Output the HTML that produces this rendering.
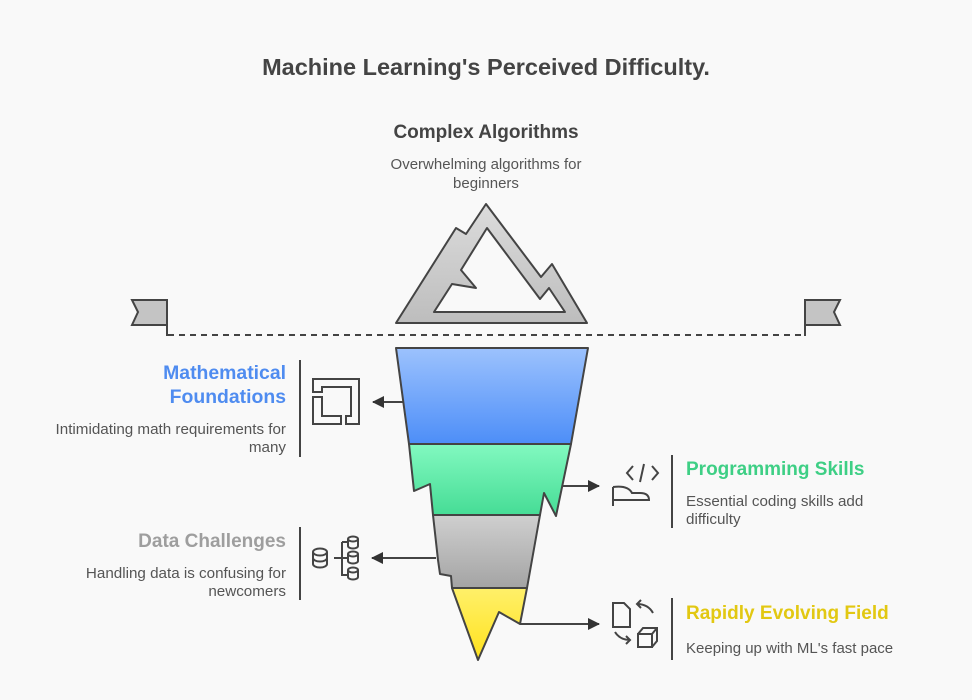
<!DOCTYPE html>
<html><head><meta charset="utf-8"><style>
html,body{margin:0;padding:0;background:#f9f9f9;}
svg{display:block;font-family:"Liberation Sans",Arial,sans-serif;}
</style></head><body>
<svg width="972" height="700" viewBox="0 0 972 700" xmlns="http://www.w3.org/2000/svg">
<defs>
<linearGradient id="gb" x1="0" y1="0" x2="0" y2="1"><stop offset="0" stop-color="#9cc2fd"/><stop offset="1" stop-color="#4d8ef8"/></linearGradient>
<linearGradient id="gg" x1="0" y1="0" x2="0" y2="1"><stop offset="0" stop-color="#82f9c0"/><stop offset="1" stop-color="#45dc95"/></linearGradient>
<linearGradient id="gr" x1="0" y1="0" x2="0" y2="1"><stop offset="0" stop-color="#cfcfcf"/><stop offset="1" stop-color="#a4a4a4"/></linearGradient>
<linearGradient id="gy" x1="0" y1="0" x2="0" y2="1"><stop offset="0" stop-color="#fff06a"/><stop offset="1" stop-color="#ffe21d"/></linearGradient>
<linearGradient id="gm" x1="0" y1="0" x2="0" y2="1"><stop offset="0" stop-color="#dcdcdc"/><stop offset="1" stop-color="#bdbdbd"/></linearGradient>
<marker id="ah" markerWidth="12" markerHeight="12" refX="11" refY="6" orient="auto" markerUnits="userSpaceOnUse"><path d="M0,0 L12,6 L0,12 Z" fill="#333"/></marker>
</defs>
<text x="486" y="75" text-anchor="middle" font-size="23.5" font-weight="bold" fill="#444">Machine Learning's Perceived Difficulty.</text>
<text x="486" y="138" text-anchor="middle" font-size="19" font-weight="bold" fill="#444">Complex Algorithms</text>
<text x="486" y="169" text-anchor="middle" font-size="15" fill="#555">Overwhelming algorithms for</text>
<text x="486" y="188" text-anchor="middle" font-size="15" fill="#555">beginners</text>

<path d="M396,323 L456,228 L466,234 L486,204 L541,277 L552,264 L587,323 Z M434,312 L565,312 L549,288 L540,299 L487,228 L461,270 L476,288 L452,284 Z" fill="url(#gm)" fill-rule="evenodd" stroke="#444" stroke-width="2" stroke-linejoin="round"/>

<line x1="168" y1="335" x2="803" y2="335" stroke="#444" stroke-width="2" stroke-dasharray="6,5"/>
<path d="M132,300 L167,300 L167,325 L132,325 L138,312 Z" fill="#c4c4c4" stroke="#444" stroke-width="2"/>
<line x1="167" y1="300" x2="167" y2="336" stroke="#444" stroke-width="2"/>
<path d="M840,300 L805,300 L805,325 L840,325 L834,312 Z" fill="#c4c4c4" stroke="#444" stroke-width="2"/>
<line x1="805" y1="300" x2="805" y2="336" stroke="#444" stroke-width="2"/>

<path d="M396,348 L588,348 L571,444 L409,444 Z" fill="url(#gb)" stroke="#444" stroke-width="2" stroke-linejoin="round"/>
<path d="M409,444 L571,444 L556,516 L544,493 L540,515 L433,515 L430,484 L414,491 Z" fill="url(#gg)" stroke="#444" stroke-width="2" stroke-linejoin="round"/>
<path d="M433,515 L540,515 L527,588 L452,588 L451,576 L440,574 L438,560 Z" fill="url(#gr)" stroke="#444" stroke-width="2" stroke-linejoin="round"/>
<path d="M452,588 L527,588 L520,624 L499,612 L478,660 Z" fill="url(#gy)" stroke="#444" stroke-width="2" stroke-linejoin="round"/>

<line x1="403" y1="402" x2="373" y2="402" stroke="#444" stroke-width="2" marker-end="url(#ah)"/>
<line x1="562" y1="486" x2="599" y2="486" stroke="#444" stroke-width="2" marker-end="url(#ah)"/>
<line x1="436" y1="558" x2="372" y2="558" stroke="#444" stroke-width="2" marker-end="url(#ah)"/>
<line x1="520" y1="624" x2="599" y2="624" stroke="#444" stroke-width="2" marker-end="url(#ah)"/>

<g fill="none" stroke="#444" stroke-width="2">
<path d="M313,379 L359,379 L359,424 L346,424 L346,416 L351,416 L351,387 L322,387 L322,392 L313,392 Z"/>
<path d="M313,397 L322,397 L322,416 L341,416 L341,424 L313,424 Z"/>
<ellipse cx="320" cy="552" rx="7" ry="3.5"/><path d="M313,552 V564 A7,3.5 0 0 0 327,564 V552 M313,558 A7,3.5 0 0 0 327,558"/>
<path d="M334,558 H342 M342,542 H347 M342,542 V575 H347 M342,558 H347"/>
<ellipse cx="353" cy="539" rx="5" ry="2.5"/><path d="M348,539 V546 A5,2.5 0 0 0 358,546 V539"/>
<ellipse cx="353" cy="554" rx="5" ry="2.5"/><path d="M348,554 V561 A5,2.5 0 0 0 358,561 V554"/>
<ellipse cx="353" cy="570" rx="5" ry="2.5"/><path d="M348,570 V577 A5,2.5 0 0 0 358,577 V570"/>
</g>
<g fill="none" stroke="#444" stroke-width="2">
<path d="M633,466 L627,473 L633,480 M652,466 L658,473 L652,480 M644,464 L640,482"/>
<path d="M613,487 V506 M613,500 H649 Q649,493 640,493 L632,493 Q628,485 613,487"/>
<path d="M613,603 H624 L630,609 V627 H613 Z"/>
<path d="M653,613 Q648,604 637,604 M641,600 L637,604 L641,608"/>
<path d="M615,632 Q620,640 630,640 M626,636 L630,640 L626,644"/>
<path d="M638,634 H652 V647 H638 Z M638,634 L643,628 H657 V641 L652,647 M652,634 L657,628"/>
</g>

<line x1="300" y1="360" x2="300" y2="457" stroke="#444" stroke-width="2"/>
<line x1="300" y1="527" x2="300" y2="600" stroke="#444" stroke-width="2"/>
<line x1="672" y1="455" x2="672" y2="528" stroke="#444" stroke-width="2"/>
<line x1="672" y1="598" x2="672" y2="660" stroke="#444" stroke-width="2"/>

<g text-anchor="end">
<text x="286" y="379" font-size="19.4" font-weight="bold" fill="#4f8cf0">Mathematical</text>
<text x="286" y="403" font-size="19.4" font-weight="bold" fill="#4f8cf0">Foundations</text>
<text x="286" y="434" font-size="15.2" fill="#555">Intimidating math requirements for</text>
<text x="286" y="452" font-size="15.2" fill="#555">many</text>
<text x="286" y="547" font-size="19" font-weight="bold" fill="#9e9e9e">Data Challenges</text>
<text x="286" y="578" font-size="15.2" fill="#555">Handling data is confusing for</text>
<text x="286" y="596" font-size="15.2" fill="#555">newcomers</text>
</g>
<text x="686" y="475" font-size="19" font-weight="bold" fill="#3ecf85">Programming Skills</text>
<text x="686" y="506" font-size="15.2" fill="#555">Essential coding skills add</text>
<text x="686" y="524" font-size="15.2" fill="#555">difficulty</text>
<text x="686" y="619" font-size="19" font-weight="bold" fill="#e2c812">Rapidly Evolving Field</text>
<text x="686" y="653" font-size="15" fill="#555">Keeping up with ML's fast pace</text>
</svg>
</body></html>
